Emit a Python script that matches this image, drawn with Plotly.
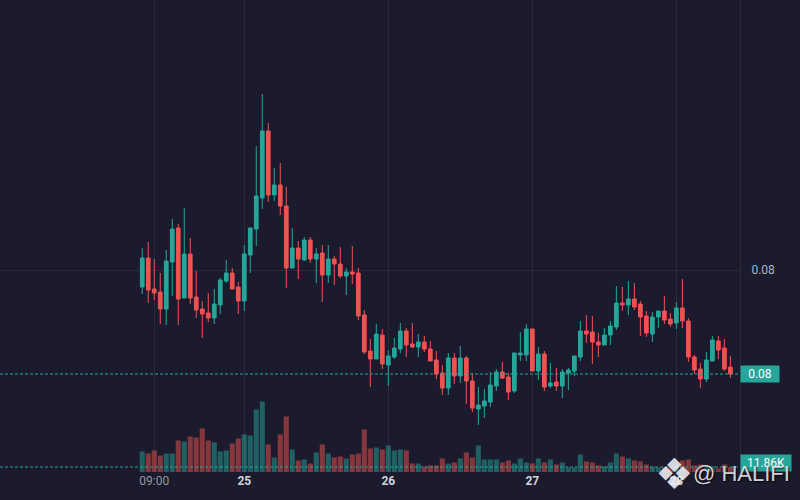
import pandas as pd
import plotly.graph_objects as go

# hourly candles, 24th 07:00 -> 28th 09:00
start = pd.Timestamp("2024-05-24 07:00")
fechas = pd.date_range(start, periods=99, freq="h")

apertura = [0.07966, 0.08024, 0.07962, 0.07956, 0.07922, 0.08016, 0.08084, 0.07944, 0.08032, 0.07946,
            0.07922, 0.07914, 0.07904, 0.07930, 0.07978, 0.07994, 0.07966, 0.07938, 0.08030, 0.08082,
            0.08144, 0.08278, 0.08150, 0.08170, 0.08128, 0.08004, 0.08044, 0.08020, 0.08060, 0.08022,
            0.08034, 0.07990, 0.08022, 0.08012, 0.07988, 0.07996, 0.07994, 0.07910, 0.07838, 0.07822,
            0.07870, 0.07810, 0.07826, 0.07842, 0.07878, 0.07852, 0.07846, 0.07856, 0.07842, 0.07820,
            0.07794, 0.07764, 0.07824, 0.07788, 0.07824, 0.07778, 0.07722, 0.07728, 0.07736, 0.07768,
            0.07796, 0.07786, 0.07758, 0.07830, 0.07830, 0.07882, 0.07798, 0.07832, 0.07768, 0.07776,
            0.07768, 0.07794, 0.07798, 0.07826, 0.07878, 0.07876, 0.07856, 0.07850, 0.07870, 0.07886,
            0.07934, 0.07930, 0.07942, 0.07932, 0.07908, 0.07872, 0.07906, 0.07918, 0.07902, 0.07894,
            0.07924, 0.07898, 0.07826, 0.07802, 0.07782, 0.07818, 0.07858, 0.07844, 0.07806]
maximo = [0.08044, 0.08056, 0.08022, 0.07994, 0.08040, 0.08102, 0.08092, 0.08124, 0.08064, 0.07998,
          0.07938, 0.07954, 0.07962, 0.07984, 0.08020, 0.08004, 0.07976, 0.08050, 0.08084, 0.08248,
          0.08352, 0.08294, 0.08204, 0.08214, 0.08166, 0.08084, 0.08058, 0.08066, 0.08066, 0.08044,
          0.08050, 0.08050, 0.08028, 0.08046, 0.08004, 0.08048, 0.08004, 0.07920, 0.07862, 0.07892,
          0.07882, 0.07840, 0.07864, 0.07894, 0.07884, 0.07894, 0.07872, 0.07868, 0.07858, 0.07838,
          0.07810, 0.07834, 0.07834, 0.07848, 0.07828, 0.07794, 0.07766, 0.07762, 0.07796, 0.07802,
          0.07816, 0.07794, 0.07834, 0.07876, 0.07892, 0.07882, 0.07846, 0.07838, 0.07814, 0.07804,
          0.07802, 0.07804, 0.07828, 0.07898, 0.07910, 0.07908, 0.07874, 0.07884, 0.07898, 0.07968,
          0.07966, 0.07978, 0.07974, 0.07938, 0.07918, 0.07916, 0.07918, 0.07948, 0.07914, 0.07936,
          0.07982, 0.07904, 0.07830, 0.07814, 0.07836, 0.07868, 0.07868, 0.07862, 0.07828]
minimo = [0.07952, 0.07934, 0.07940, 0.07892, 0.07890, 0.07948, 0.07890, 0.07944, 0.07932, 0.07904,
          0.07864, 0.07896, 0.07892, 0.07912, 0.07974, 0.07962, 0.07912, 0.07918, 0.07994, 0.08048,
          0.08122, 0.08136, 0.08138, 0.08110, 0.07964, 0.08004, 0.07982, 0.08018, 0.08014, 0.07974,
          0.07936, 0.07974, 0.07970, 0.07984, 0.07950, 0.07972, 0.07900, 0.07832, 0.07766, 0.07822,
          0.07802, 0.07768, 0.07822, 0.07834, 0.07826, 0.07844, 0.07826, 0.07836, 0.07818, 0.07782,
          0.07750, 0.07750, 0.07772, 0.07774, 0.07732, 0.07716, 0.07690, 0.07704, 0.07726, 0.07758,
          0.07782, 0.07740, 0.07754, 0.07818, 0.07818, 0.07798, 0.07780, 0.07758, 0.07764, 0.07758,
          0.07744, 0.07760, 0.07788, 0.07818, 0.07854, 0.07812, 0.07826, 0.07850, 0.07850, 0.07880,
          0.07918, 0.07910, 0.07920, 0.07868, 0.07866, 0.07856, 0.07884, 0.07892, 0.07886, 0.07882,
          0.07884, 0.07816, 0.07792, 0.07764, 0.07776, 0.07818, 0.07822, 0.07798, 0.07784]
cierre = [0.08024, 0.07960, 0.07954, 0.07922, 0.08018, 0.08082, 0.07942, 0.08032, 0.07944, 0.07920,
          0.07912, 0.07904, 0.07932, 0.07980, 0.07994, 0.07962, 0.07938, 0.08032, 0.08084, 0.08148,
          0.08278, 0.08150, 0.08170, 0.08128, 0.08004, 0.08044, 0.08022, 0.08060, 0.08022, 0.08032,
          0.07990, 0.08022, 0.08012, 0.07988, 0.07996, 0.07992, 0.07908, 0.07836, 0.07822, 0.07872,
          0.07812, 0.07828, 0.07844, 0.07878, 0.07850, 0.07846, 0.07856, 0.07842, 0.07818, 0.07792,
          0.07764, 0.07824, 0.07788, 0.07824, 0.07778, 0.07724, 0.07730, 0.07738, 0.07770, 0.07796,
          0.07784, 0.07756, 0.07834, 0.07834, 0.07882, 0.07798, 0.07832, 0.07766, 0.07774, 0.07768,
          0.07796, 0.07800, 0.07828, 0.07878, 0.07872, 0.07856, 0.07850, 0.07870, 0.07888, 0.07934,
          0.07930, 0.07942, 0.07926, 0.07906, 0.07874, 0.07906, 0.07918, 0.07900, 0.07892, 0.07924,
          0.07898, 0.07826, 0.07800, 0.07782, 0.07820, 0.07860, 0.07840, 0.07802, 0.07792]
# volumen en miles
volumen = [49.2, 44.4, 51.6, 39.6, 44.4, 44.4, 75.6, 73.2, 85.2, 82.8,
           104.4, 75.6, 70.8, 49.2, 51.6, 68.4, 80.4, 90.0, 87.6, 150.0,
           169.2, 66.0, 34.8, 90.0, 133.2, 54.0, 27.6, 30.0, 20.4, 46.8,
           66.0, 44.4, 34.8, 37.2, 32.4, 42.0, 44.4, 102.0, 56.4, 58.8,
           54.0, 63.6, 51.6, 54.0, 51.6, 20.4, 20.4, 13.2, 15.6, 15.6,
           32.4, 20.4, 22.8, 32.4, 46.8, 34.8, 63.6, 30.0, 30.0, 30.0,
           22.8, 27.6, 20.4, 32.4, 22.8, 20.4, 32.4, 22.8, 30.0, 18.0,
           22.8, 10.8, 10.8, 42.0, 25.2, 22.8, 15.6, 13.2, 22.8, 44.4,
           37.2, 32.4, 27.6, 25.2, 18.0, 13.2, 10.8, 10.8, 13.2, 18.0,
           27.6, 30.0, 15.6, 18.0, 13.2, 13.2, 8.4, 18.0, 11.86]

ticks_x = ["2024-05-24 09:00", "2024-05-25", "2024-05-26", "2024-05-27", "2024-05-28"]
etiquetas_x = ["<span style='color:#9598a1'>09:00</span>", "<b>25</b>", "<b>26</b>", "<b>27</b>", "<b>28</b>"]

FONDO = "#1b1b2d"
REJILLA = "#2a2a3c"
VERDE = "#26a69a"
ROJO = "#ef5350"

colores_vol = ["rgba(38,166,154,0.5)" if c >= o else "rgba(239,83,80,0.5)"
               for o, c in zip(apertura, cierre)]

fig = go.Figure()

fig.add_trace(go.Bar(
    x=fechas, y=volumen, marker=dict(color=colores_vol, line=dict(width=0)),
    yaxis="y", showlegend=False, hoverinfo="skip"
))

fig.add_trace(go.Candlestick(
    x=fechas, open=apertura, high=maximo, low=minimo, close=cierre,
    increasing=dict(line=dict(color=VERDE, width=1), fillcolor=VERDE),
    decreasing=dict(line=dict(color=ROJO, width=1), fillcolor=ROJO),
    yaxis="y2", showlegend=False
))

# linea de precio actual y de volumen actual
fig.add_shape(type="line", xref="paper", x0=0, x1=1, yref="y2", y0=cierre[-1], y1=cierre[-1],
              line=dict(color=VERDE, width=1, dash="3px,2px"))
fig.add_shape(type="line", xref="paper", x0=0, x1=1, yref="y", y0=volumen[-1], y1=volumen[-1],
              line=dict(color=VERDE, width=1, dash="3px,2px"))

x_ini = start - pd.Timedelta(hours=23.7)
x_fin = start + pd.Timedelta(hours=99.6)

fig.update_layout(
    width=800, height=500,
    margin=dict(l=0, r=60, t=0, b=28),
    paper_bgcolor=FONDO, plot_bgcolor=FONDO,
    font=dict(family="Roboto, Liberation Sans, sans-serif", color="#d1d4dc", size=12),
    bargap=0.15, boxgap=0.12,
    xaxis=dict(
        range=[x_ini, x_fin], tickvals=ticks_x, ticktext=etiquetas_x,
        showgrid=True, gridcolor=REJILLA, gridwidth=1, zeroline=False,
        showline=False, ticks="", rangeslider=dict(visible=False),
        tickfont=dict(size=12, color="#d1d4dc"),
    ),
    yaxis=dict(range=[0, 1132.8], visible=False, showgrid=False, zeroline=False),
    yaxis2=dict(
        overlaying="y", side="right", range=[0.07596, 0.0854],
        tickvals=[0.08], tickformat=".2f", showgrid=True, gridcolor=REJILLA,
        zeroline=False, showline=True, linecolor=REJILLA, ticks="",
        ticklabelstandoff=8, tickfont=dict(size=12, color="#b2b5be"),
    ),
    annotations=[
        dict(xref="paper", x=1, xanchor="left", yref="y2", y=cierre[-1], yanchor="middle",
             text=f"{cierre[-1]:.2f}", showarrow=False, bgcolor=VERDE, width=36, height=14,
             font=dict(color="white", size=12)),
        dict(xref="paper", x=1, xanchor="left", yref="y", y=volumen[-1], yanchor="middle", yshift=4,
             text=f"{volumen[-1]:.2f}K", showarrow=False, bgcolor=VERDE, width=48, height=14,
             font=dict(color="white", size=12)),
        dict(xref="paper", x=0.912, xanchor="center", yref="paper", y=-0.005, yanchor="middle",
             text="❖", showarrow=False,
             font=dict(family="DejaVu Sans", size=43, color="rgba(240,240,245,0.9)")),
        dict(xref="paper", x=1.002, xanchor="center", yref="paper", y=-0.004, yanchor="middle",
             text="@ HALIFI", showarrow=False,
             font=dict(family="Liberation Sans", size=22, color="rgba(235,235,240,0.9)",
                       shadow="1px 1px 2px #000")),
    ],
)

fig.write_html("out.html", config={"displayModeBar": False},
               post_script="document.body.style.margin='0';")
